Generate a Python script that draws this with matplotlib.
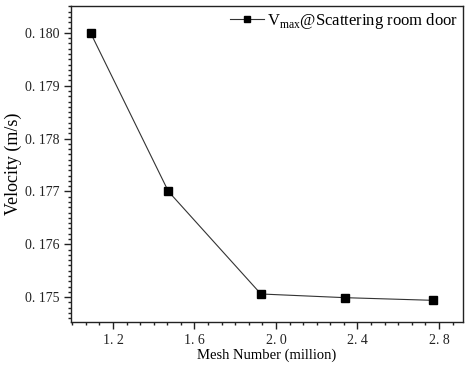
"""
Mesh independence check: max velocity at the scattering room door
"""
import numpy as np
import matplotlib
matplotlib.use('Agg')
import matplotlib.pyplot as plt
from matplotlib.ticker import MultipleLocator, FixedLocator, FixedFormatter

# ======================================================================================================================
# Data
MESH_MILLION = [1.09, 1.472, 1.926, 2.341, 2.77]
VELOCITY = [0.1800, 0.1770, 0.17506, 0.17499, 0.17494]
SERIES_LABEL = r'V$_{\mathregular{max}}$@Scattering room door'

X_TICKS = [1.2, 1.6, 2.0, 2.4, 2.8]
X_TICK_LABELS = ['1. 2', '1. 6', '2. 0', '2. 4', '2. 8']
Y_TICKS = [0.175, 0.176, 0.177, 0.178, 0.179, 0.180]
Y_TICK_LABELS = ['0. 175', '0. 176', '0. 177', '0. 178', '0. 179', '0. 180']

# ======================================================================================================================
plt.rcParams['font.family'] = ['Liberation Serif', 'DejaVu Serif']
plt.rcParams['mathtext.fontset'] = 'custom'
plt.rcParams['mathtext.rm'] = 'Liberation Serif'

fig = plt.figure(figsize=(4.74, 3.68), dpi=100)
ax = fig.add_axes([0.1498, 0.125, 0.827, 0.859])

ax.plot(MESH_MILLION, VELOCITY, color='#333333', linewidth=0.8,
        marker='s', markersize=5.5, markerfacecolor='black', markeredgecolor='black',
        label=SERIES_LABEL)

ax.set_xlim(0.994, 2.918)
ax.set_ylim(0.17453, 0.18051)

ax.xaxis.set_major_locator(FixedLocator(X_TICKS))
ax.xaxis.set_major_formatter(FixedFormatter(X_TICK_LABELS))
ax.xaxis.set_minor_locator(MultipleLocator(0.4 / 6))
ax.yaxis.set_major_locator(FixedLocator(Y_TICKS))
ax.yaxis.set_major_formatter(FixedFormatter(Y_TICK_LABELS))
ax.yaxis.set_minor_locator(MultipleLocator(0.0001))

ax.tick_params(which='both', direction='out', top=False, right=False, colors='#222222',
               labelsize=10, width=1.0)
ax.tick_params(which='major', length=5)
ax.tick_params(which='minor', length=2.5)
for spine in ax.spines.values():
    spine.set_linewidth(1.0)
    spine.set_color('#222222')

ax.set_xlabel('Mesh Number (million)', fontsize=10.5, labelpad=1)
ax.set_ylabel('Velocity (m/s)', fontsize=13, labelpad=2)

ax.legend(loc='upper right', frameon=False, fontsize=12, handlelength=2.0, markerscale=0.7,
          handletextpad=0.2, borderaxespad=0.1, borderpad=0.2)

fig.savefig('out.png', dpi=100)
